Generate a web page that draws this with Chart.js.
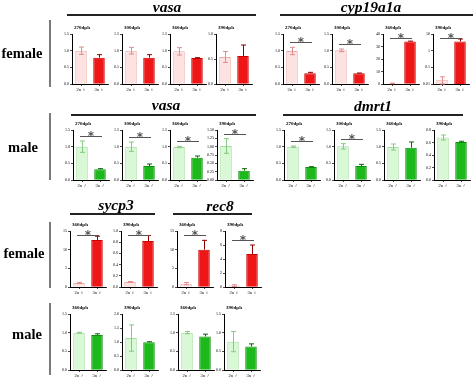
<!DOCTYPE html>
<html>
<head>
<meta charset="utf-8">
<script src="https://cdn.jsdelivr.net/npm/chart.js@4.4.1/dist/chart.umd.min.js"></script>
<style>
  html, body { margin: 0; padding: 0; background: #fff; }
  #fig { position: relative; width: 474px; height: 378px; overflow: hidden; font-family: "Liberation Serif", serif; }
  .lbl { position: absolute; transform: translate(-50%, -50%); white-space: nowrap; font-weight: bold; color: #000; }
  .gene { font-style: italic; font-size: 15.5px; }
  .sex { font-size: 14.5px; }
  .hl { position: absolute; height: 1.5px; background: #222; }
  .vl { position: absolute; width: 2px; background: #7a7a7a; }
</style>
</head>
<body>
<div id="fig"></div>
<script>
// ---- categories / tick labels ----
const stages4 = ['270dph', '300dph', '360dph', '390dph'];
const stages2 = ['360dph', '390dph'];
const femaleGroups = ['2n \u2640', '3n \u2640'];
const maleGroups = ['2n \u2642', '3n \u2642'];
const logTicks = [0.01, 0.1, 1, 10];

// ---- vasa, female ----
const vasaF2n = [1.00, 1.00, 0.98, 0.54];
const vasaF3n = [0.79, 0.79, 0.78, 0.56];
const vasaF2nErr = [0.11, 0.10, 0.11, 0.11];
const vasaF3nErr = [0.09, 0.09, 0.01, 0.22];
const vasaFMax = [1.5, 1.5, 1.5, 1.0];
const vasaFStep = [0.5, 0.5, 0.5, 0.5];
const vasaFSig = [false, false, false, false];

// ---- cyp19a1a, female ----
const cypF2n = [0.99, 1.01, 0.5, 0.018];
const cypF3n = [0.32, 0.32, 34.0, 3.6];
const cypF2nErr = [0.11, 0.04, 0.2, 0.009];
const cypF3nErr = [0.03, 0.01, 0.3, 1.4];
const cypFMax = [1.5, 1.5, 40, 10];
const cypFStep = [0.5, 0.5, 10, null];
const cypFLog = [false, false, false, true];
const cypFSig = [true, true, true, true];

// ---- vasa, male ----
const vasaM2n = [1.00, 1.00, 0.99, 1.02];
const vasaM3n = [0.32, 0.42, 0.67, 0.28];
const vasaM2nErr = [0.17, 0.14, 0.02, 0.22];
const vasaM3nErr = [0.02, 0.06, 0.05, 0.06];
const vasaMMax = [1.5, 1.5, 1.5, 1.5];
const vasaMStep = [0.5, 0.5, 0.5, 0.25];
const vasaMSig = [true, true, true, true];

// ---- dmrt1, male ----
const dmrtM2n = [1.00, 1.01, 0.99, 0.68];
const dmrtM3n = [0.39, 0.42, 0.97, 0.61];
const dmrtM2nErr = [0.02, 0.08, 0.09, 0.04];
const dmrtM3nErr = [0.01, 0.05, 0.17, 0.01];
const dmrtMMax = [1.5, 1.5, 1.5, 0.8];
const dmrtMStep = [0.5, 0.5, 0.5, 0.2];
const dmrtMSig = [true, true, false, false];

// ---- sycp3 / rec8, female ----
const sycp3F2n = [1.1, 0.09];
const sycp3F3n = [12.6, 0.82];
const sycp3F2nErr = [0.15, 0.006];
const sycp3F3nErr = [1.0, 0.10];
const sycp3FMax = [15, 1.0];
const sycp3FStep = [5, 0.2];
const rec8F2n = [0.9, 0.2];
const rec8F3n = [10.0, 4.7];
const rec8F2nErr = [0.3, 0.12];
const rec8F3nErr = [2.5, 1.3];
const rec8FMax = [15, 8];
const rec8FStep = [5, 2];

// ---- sycp3 / rec8, male ----
const sycp3M2n = [1.0, 1.14];
const sycp3M3n = [0.94, 0.99];
const sycp3M2nErr = [0.01, 0.47];
const sycp3M3nErr = [0.03, 0.02];
const sycp3MMax = [1.5, 2.0];
const sycp3MStep = [0.5, 0.5];
const rec8M2n = [1.0, 0.76];
const rec8M3n = [0.9, 0.63];
const rec8M2nErr = [0.03, 0.27];
const rec8M3nErr = [0.06, 0.07];
const rec8MMax = [1.5, 1.5];
const rec8MStep = [0.5, 0.5];

// ---- colours ----
const palF = { fill: ['#fde2e2', '#ee1616'], border: ['#eeaaaa', '#c80000'], err: ['#df8d8d', '#8e0000'] };
const palM = { fill: ['#d9f8d6', '#1cb81c'], border: ['#9fdc9a', '#0e8f0e'], err: ['#86c982', '#0a650a'] };

const fig = document.getElementById('fig');
const SERIF = '"Liberation Serif", serif';
const YW = 16, PW = 36, TH = 10, XH = 10;

// error bars + significance bracket
const errPlugin = {
  id: 'errbars',
  afterDatasetsDraw(chart, args, opts) {
    const meta = chart.getDatasetMeta(0);
    const y = chart.scales.y;
    const ctx = chart.ctx;
    const vals = chart.data.datasets[0].data;
    const tops = [];
    ctx.save();
    ctx.lineWidth = 1;
    meta.data.forEach((bar, i) => {
      const m = vals[i], e = opts.err[i];
      const yt = y.getPixelForValue(m + e);
      const lo = Math.max(m - e, y.min);
      const yb = y.getPixelForValue(lo);
      const x = Math.round(bar.x) + 0.5;
      ctx.strokeStyle = opts.colors[i];
      ctx.beginPath();
      ctx.moveTo(x, yt);
      ctx.lineTo(x, i === 0 ? yb : y.getPixelForValue(m));
      ctx.moveTo(x - 2.5, yt); ctx.lineTo(x + 2.5, yt);
      if (i === 0) { ctx.moveTo(x - 2.5, yb); ctx.lineTo(x + 2.5, yb); }
      ctx.stroke();
      tops.push(yt);
    });
    if (opts.sig) {
      const yl = Math.round(Math.max(chart.chartArea.top + 4, Math.min(...tops) - 5)) + 0.5;
      const x0 = meta.data[0].x - 2, x1 = meta.data[1].x + 2;
      ctx.strokeStyle = '#555';
      ctx.beginPath(); ctx.moveTo(x0, yl); ctx.lineTo(x1, yl); ctx.stroke();
      ctx.fillStyle = '#555';
      ctx.font = 'bold 12px "DejaVu Sans"';
      ctx.textAlign = 'center';
      ctx.textBaseline = 'alphabetic';
      ctx.fillText('*', (x0 + x1) / 2, yl + 3.5);
    }
    ctx.restore();
  }
};

function label(text, cls, x, y) {
  const d = document.createElement('div');
  d.className = 'lbl ' + cls;
  d.textContent = text;
  d.style.left = x + 'px';
  d.style.top = y + 'px';
  fig.appendChild(d);
}
function hline(x0, x1, y) {
  const d = document.createElement('div');
  d.className = 'hl';
  d.style.left = x0 + 'px'; d.style.width = (x1 - x0) + 'px'; d.style.top = y + 'px';
  fig.appendChild(d);
}
function vline(x, y0, y1) {
  const d = document.createElement('div');
  d.className = 'vl';
  d.style.left = x + 'px'; d.style.top = y0 + 'px'; d.style.height = (y1 - y0) + 'px';
  fig.appendChild(d);
}

function panel(ax, top, h, title, groups, vals, errs, ymax, step, isLog, sig, pal) {
  const c = document.createElement('canvas');
  const W = YW + PW + 2, H = TH + h + XH;
  c.width = W; c.height = H;
  c.style.cssText = 'position:absolute;left:' + (ax - YW) + 'px;top:' + (top - TH) + 'px;width:' + W + 'px;height:' + H + 'px';
  fig.appendChild(c);
  const tickFont = { family: SERIF, size: 4 };
  const grid = { display: true, drawOnChartArea: false, tickLength: 2, color: '#000', lineWidth: 0.7 };
  const border = { display: true, color: '#000', width: 1 };
  let yScale;
  if (isLog) {
    yScale = {
      type: 'logarithmic', min: logTicks[0], max: ymax,
      afterBuildTicks: s => { s.ticks = logTicks.map(v => ({ value: v })); },
      ticks: { font: tickFont, color: '#000', padding: 1, callback: v => String(v) }
    };
  } else {
    const dec = (String(step).split('.')[1] || '').length;
    yScale = {
      type: 'linear', min: 0, max: ymax,
      ticks: { stepSize: step, font: tickFont, color: '#000', padding: 1, callback: v => v.toFixed(dec) }
    };
  }
  Object.assign(yScale, { grid: grid, border: border, afterFit: s => { s.width = YW; } });
  new Chart(c, {
    type: 'bar',
    data: {
      labels: groups,
      datasets: [{
        data: vals,
        backgroundColor: pal.fill,
        borderColor: pal.border,
        borderWidth: 1,
        barPercentage: 0.64,
        categoryPercentage: 1
      }]
    },
    options: {
      responsive: false,
      animation: false,
      devicePixelRatio: 1,
      layout: { padding: { left: 0, right: 2, top: 0, bottom: 0 } },
      plugins: {
        legend: { display: false },
        tooltip: { enabled: false },
        title: {
          display: true, text: title, color: '#000',
          font: { family: SERIF, size: 5, weight: 'bold' },
          padding: { top: 1, bottom: 3 }
        },
        errbars: { err: errs, colors: pal.err, sig: sig }
      },
      scales: {
        x: {
          grid: Object.assign({}, grid, { offset: false }),
          border: border,
          ticks: { font: { family: SERIF, size: 4.5 }, color: '#000', padding: 1 },
          afterFit: s => { s.height = XH; }
        },
        y: yScale
      }
    },
    plugins: [errPlugin]
  });
}

function block(xs, top, h, stages, groups, a, b, ea, eb, maxs, steps, logs, sigs, pal) {
  stages.forEach((st, i) => {
    panel(xs[i], top, h, st, groups, [a[i], b[i]], [ea[i], eb[i]], maxs[i], steps[i],
      logs ? logs[i] : false, sigs ? sigs[i] : true, pal);
  });
}

// row 1 : female
block([72, 122, 170, 216], 34, 50, stages4, femaleGroups, vasaF2n, vasaF3n, vasaF2nErr, vasaF3nErr, vasaFMax, vasaFStep, null, vasaFSig, palF);
block([283, 332, 383, 433], 34, 50, stages4, femaleGroups, cypF2n, cypF3n, cypF2nErr, cypF3nErr, cypFMax, cypFStep, cypFLog, cypFSig, palF);
// row 2 : male
block([73, 122, 170, 217], 130, 50, stages4, maleGroups, vasaM2n, vasaM3n, vasaM2nErr, vasaM3nErr, vasaMMax, vasaMStep, null, vasaMSig, palM);
block([284, 334, 384, 434], 130, 50, stages4, maleGroups, dmrtM2n, dmrtM3n, dmrtM2nErr, dmrtM3nErr, dmrtMMax, dmrtMStep, null, dmrtMSig, palM);
// row 3 : female
block([70, 121], 231, 56, stages2, femaleGroups, sycp3F2n, sycp3F3n, sycp3F2nErr, sycp3F3nErr, sycp3FMax, sycp3FStep, null, [true, true], palF);
block([177, 225], 231, 56, stages2, femaleGroups, rec8F2n, rec8F3n, rec8F2nErr, rec8F3nErr, rec8FMax, rec8FStep, null, [true, true], palF);
// row 4 : male
block([70, 122], 314, 56, stages2, maleGroups, sycp3M2n, sycp3M3n, sycp3M2nErr, sycp3M3nErr, sycp3MMax, sycp3MStep, null, [false, false], palM);
block([178, 224], 314, 56, stages2, maleGroups, rec8M2n, rec8M3n, rec8M2nErr, rec8M3nErr, rec8MMax, rec8MStep, null, [false, false], palM);

// gene headers
label('vasa', 'gene', 167, 7);       hline(67, 256, 14);
label('cyp19a1a', 'gene', 371, 7);   hline(280, 473, 14);
label('vasa', 'gene', 166, 105);     hline(71, 256, 114);
label('dmrt1', 'gene', 373, 106);    hline(283, 463, 114);
label('sycp3', 'gene', 116, 205);    hline(70, 155, 213);
label('rec8', 'gene', 220, 206);     hline(173, 252, 213);

// sex labels and separators
label('female', 'sex', 22, 53);  vline(49, 20, 87);
label('male', 'sex', 23, 147);   vline(49, 113, 180);
label('female', 'sex', 24, 253); vline(49, 222, 288);
label('male', 'sex', 27, 334);   vline(49, 303, 375);
</script>
</body>
</html>
